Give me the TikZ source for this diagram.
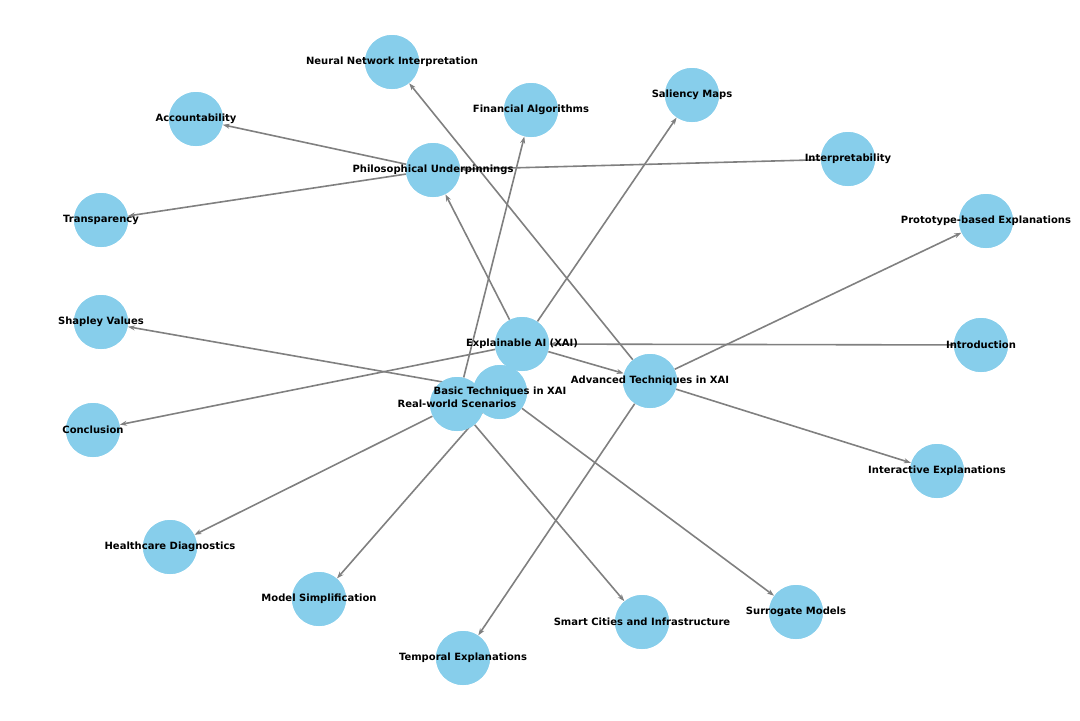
\documentclass[tikz,border=0pt]{standalone}
\usepackage{fontspec}
\setmainfont{DejaVu Sans}
\usetikzlibrary{arrows.meta}
\definecolor{skyblue}{HTML}{87CEEB}

\begin{document}
\begin{tikzpicture}[x=0.5pt,y=-0.5pt,
  topic/.style={circle,fill=skyblue,minimum size=27pt,inner sep=0pt},
  lbl/.style={font=\bfseries\fontsize{5}{6}\selectfont,text=black},
  link/.style={draw=gray,line width=0.8pt,-{Stealth[length=3.5pt,width=2.5pt]}}]
  \useasboundingbox (0,0) rectangle (1080,720);
  % nodes
  \node [topic] (nni) at (392,62)  {};
  \node [topic] (fin) at (531,110) {};
  \node [topic] (sal) at (692,95)  {};
  \node [topic] (acc) at (196,119) {};
  \node [topic] (phi) at (433,170) {};
  \node [topic] (int) at (848,159) {};
  \node [topic] (tra) at (101,220) {};
  \node [topic] (pro) at (986,221) {};
  \node [topic] (sha) at (101,322) {};
  \node [topic] (xai) at (522,344) {};
  \node [topic] (intro) at (981,345) {};
  \node [topic] (adv) at (650,381) {};
  \node [topic] (bas) at (500,392) {};
  \node [topic] (rws) at (457,404) {};
  \node [topic] (con) at (93,430)  {};
  \node [topic] (ie)  at (937,471) {};
  \node [topic] (hea) at (170,547) {};
  \node [topic] (ms)  at (319,599) {};
  \node [topic] (sc)  at (642,622) {};
  \node [topic] (sur) at (796,612) {};
  \node [topic] (tem) at (463,658) {};

  % edges
  \path[link] (phi) edge (acc)
                    edge (tra)
              (int) edge (phi)
              (intro) edge (xai)
              (xai) edge (phi)
                    edge (sal)
                    edge (adv)
                    edge (con)
                    edge (bas)
              (adv) edge (nni)
                    edge (pro)
                    edge (ie)
                    edge (tem)
              (bas) edge (sha)
                    edge (sur)
                    edge (ms)
                    edge (rws)
              (rws) edge (fin)
                    edge (hea)
                    edge (sc);

  % redraw discs over edges
  \foreach \n in {nni,fin,sal,acc,phi,int,tra,pro,sha,xai,intro,adv,bas,rws,con,ie,hea,ms,sc,sur,tem}
    \fill[skyblue] (\n) circle (13.5pt);

  % labels
  \node [lbl] at (nni) {Neural Network Interpretation};
  \node [lbl] at (fin) {Financial Algorithms};
  \node [lbl] at (sal) {Saliency Maps};
  \node [lbl] at (acc) {Accountability};
  \node [lbl] at (phi) {Philosophical Underpinnings};
  \node [lbl] at (int) {Interpretability};
  \node [lbl] at (tra) {Transparency};
  \node [lbl] at (pro) {Prototype-based Explanations};
  \node [lbl] at (sha) {Shapley Values};
  \node [lbl] at (xai) {Explainable AI (XAI)};
  \node [lbl] at (intro) {Introduction};
  \node [lbl] at (adv) {Advanced Techniques in XAI};
  \node [lbl] at (bas) {Basic Techniques in XAI};
  \node [lbl] at (rws) {Real-world Scenarios};
  \node [lbl] at (con) {Conclusion};
  \node [lbl] at (ie)  {Interactive Explanations};
  \node [lbl] at (hea) {Healthcare Diagnostics};
  \node [lbl] at (ms)  {Model Simplification};
  \node [lbl] at (sc)  {Smart Cities and Infrastructure};
  \node [lbl] at (sur) {Surrogate Models};
  \node [lbl] at (tem) {Temporal Explanations};
\end{tikzpicture}
\end{document}
